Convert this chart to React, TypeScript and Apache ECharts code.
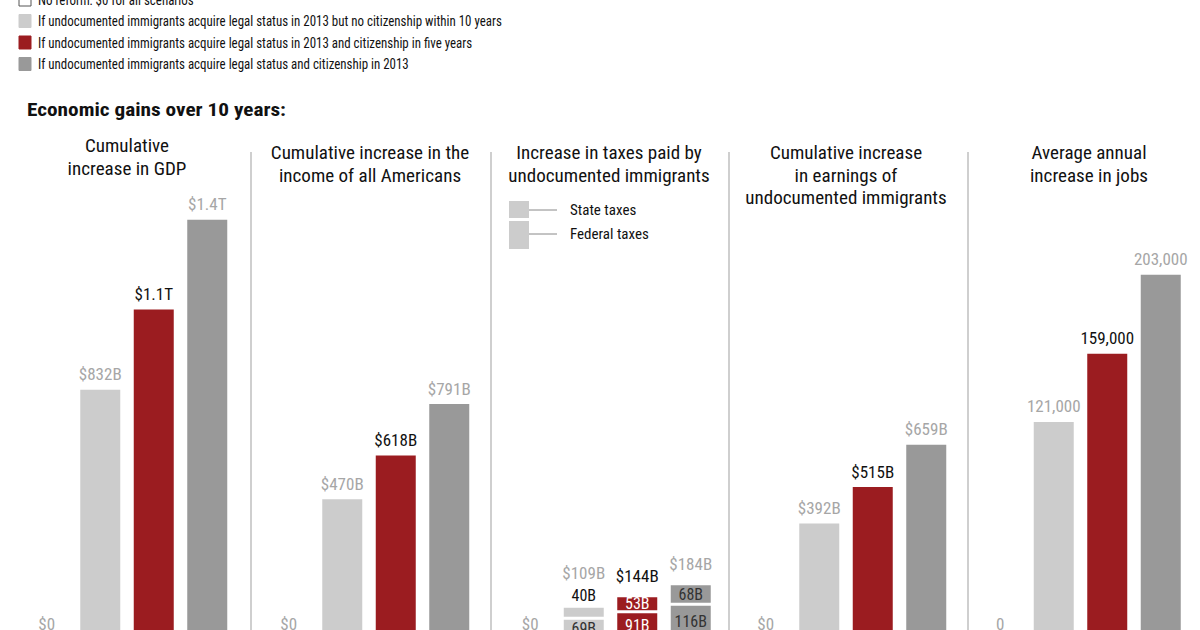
import React, { useEffect, useRef } from "react";
import * as echarts from "echarts";

const FONT = '"Liberation Sans Narrow", "Roboto Condensed", "DejaVu Sans Condensed", "Noto Sans", sans-serif';

// Scenarios (legend order)
const scenarios = [
  "No reform: $0 for all scenarios",
  "If undocumented immigrants acquire legal status in 2013 but no citizenship within 10 years",
  "If undocumented immigrants acquire legal status in 2013 and citizenship in five years",
  "If undocumented immigrants acquire legal status and citizenship in 2013",
];
const categories = ["No reform", "Legal status only", "Citizenship in 5 years", "Citizenship in 2013"];

// Values (billions of dollars, jobs per year)
const gdpValues = [0, 832, 1100, 1400];
const incomeValues = [0, 470, 618, 791];
const stateTaxes = [0, 40, 53, 68];
const federalTaxes = [0, 69, 91, 116];
const taxTotals = [0, 109, 144, 184];
const earningsValues = [0, 392, 515, 659];
const jobsValues = [0, 121000, 159000, 203000];

const panelTitles = [
  "Cumulative\nincrease in GDP",
  "Cumulative increase in the\nincome of all Americans",
  "Increase in taxes paid by\nundocumented immigrants",
  "Cumulative increase\nin earnings of\nundocumented immigrants",
  "Average annual\nincrease in jobs",
];

const barColors = ["#ffffff", "#cccccc", "#9b1c20", "#999999"];
const labelColors = ["#a6a6a6", "#a6a6a6", "#111111", "#a6a6a6"];
const stateLabelColors = ["#222", "#111", "#ffffff", "#333"];
const federalLabelColors = ["#222", "#333", "#ffffff", "#333"];

const fmtDollar = (v: number) =>
  v === 0 ? "$0" : v >= 1000 ? `$${(v / 1000).toFixed(1)}T` : `$${v}B`;
const fmtJobs = (v: number) => v.toLocaleString("en-US");

const gridLefts = [20, 262, 503.5, 739, 973.5];
const gridCenters = [127, 370, 609, 846, 1089];
const titleTops = [135, 142, 142, 142, 142];
const axisMax = [1633, 1646, 1630, 1658, 272600];
const dividers = [251, 491, 729, 968];

export default function App() {
  const ref = useRef<HTMLDivElement>(null);

  useEffect(() => {
    if (!ref.current) return;
    const chart = echarts.init(ref.current, null, { renderer: "svg" });

    const grids = gridLefts.map((l) => ({ left: l, width: 214, top: 150, height: 489 }));
    const xAxes = gridLefts.map((_, i) => ({
      type: "category",
      gridIndex: i,
      data: categories,
      show: false,
    }));
    const yAxes = gridLefts.map((_, i) => ({
      type: "value",
      gridIndex: i,
      min: 0,
      max: axisMax[i],
      show: false,
      splitLine: { show: false },
    }));

    const simpleSeries = (idx: number, values: number[], fmt: (v: number) => string) => ({
      type: "bar",
      xAxisIndex: idx,
      yAxisIndex: idx,
      barWidth: 40,
      data: values.map((v, i) => ({
        value: v,
        itemStyle: { color: barColors[i] },
        label: {
          show: true,
          position: "top",
          distance: 7,
          color: labelColors[i],
          fontSize: 17,
          fontFamily: FONT,
          formatter: fmt(v),
        },
      })),
    });

    const taxSeries = [
      {
        type: "bar",
        name: "Federal taxes",
        stack: "tax",
        xAxisIndex: 2,
        yAxisIndex: 2,
        barWidth: 43,
        data: federalTaxes.map((v, i) => ({
          value: v,
          itemStyle: { color: barColors[i], borderColor: "#ffffff", borderWidth: 1.5 },
          label: {
            show: v > 0,
            position: "inside",
            color: federalLabelColors[i],
            fontSize: 16,
            fontFamily: FONT,
            formatter: `${v}B`,
          },
        })),
      },
      {
        type: "bar",
        name: "State taxes",
        stack: "tax",
        xAxisIndex: 2,
        yAxisIndex: 2,
        barWidth: 43,
        data: stateTaxes.map((v, i) => ({
          value: v,
          itemStyle: { color: barColors[i], borderColor: "#ffffff", borderWidth: 1.5 },
          label: {
            show: v > 0,
            position: i === 1 ? "top" : "inside",
            distance: 3,
            color: stateLabelColors[i],
            fontSize: 16,
            fontFamily: FONT,
            formatter: `${v}B`,
          },
        })),
      },
      {
        type: "bar",
        name: "Total",
        stack: "tax",
        xAxisIndex: 2,
        yAxisIndex: 2,
        barWidth: 43,
        data: taxTotals.map((t, i) => ({
          value: 0,
          itemStyle: { color: "rgba(0,0,0,0)" },
          label: {
            show: true,
            position: "top",
            distance: i === 1 ? 25 : i === 0 ? 7 : 11,
            color: labelColors[i],
            fontSize: 17,
            fontFamily: FONT,
            formatter: fmtDollar(t),
          },
        })),
      },
    ];

    const graphics: any[] = [];
    // Top legend
    scenarios.forEach((s, i) => {
      const cy = -0.5 + i * 21.5;
      graphics.push({
        type: "rect",
        shape: { x: 19, y: cy - 6.5, width: 12, height: 13 },
        style: { fill: barColors[i], stroke: i === 0 ? "#555" : barColors[i], lineWidth: 1 },
      });
      graphics.push({
        type: "text",
        x: 38,
        y: cy,
        scaleX: 0.925,
        style: {
          text: s,
          fill: "#111",
          font: `14px ${FONT}`,
          textVerticalAlign: "middle",
        },
      });
    });
    graphics.push({
      type: "text",
      x: 27,
      y: 109,
      scaleX: 1.12,
      style: {
        text: "Economic gains over 10 years:",
        fill: "#111",
        font: `bold 19px ${FONT}`,
        textVerticalAlign: "middle",
      },
    });
    // Panel titles
    panelTitles.forEach((t, i) => {
      graphics.push({
        type: "text",
        x: gridCenters[i],
        y: titleTops[i],
        scaleX: 1.06,
        style: {
          text: t,
          fill: "#111",
          font: `18px ${FONT}`,
          lineHeight: 22.5,
          textAlign: "center",
          textVerticalAlign: "top",
        },
      });
    });
    // Dividers
    dividers.forEach((x) => {
      graphics.push({
        type: "line",
        shape: { x1: x, y1: 152, x2: x, y2: 660 },
        style: { stroke: "#cfcfcf", lineWidth: 2 },
      });
    });
    // Tax legend
    graphics.push({ type: "rect", shape: { x: 509, y: 201, width: 20, height: 17 }, style: { fill: "#cccccc" } });
    graphics.push({ type: "rect", shape: { x: 509, y: 221, width: 20, height: 28 }, style: { fill: "#cccccc" } });
    graphics.push({ type: "line", shape: { x1: 529, y1: 210, x2: 557, y2: 210 }, style: { stroke: "#888", lineWidth: 1 } });
    graphics.push({ type: "line", shape: { x1: 529, y1: 234, x2: 557, y2: 234 }, style: { stroke: "#888", lineWidth: 1 } });
    graphics.push({
      type: "text",
      x: 570,
      y: 210,
      style: { text: "State taxes", fill: "#111", font: `15px ${FONT}`, textVerticalAlign: "middle" },
    });
    graphics.push({
      type: "text",
      x: 570,
      y: 234,
      style: { text: "Federal taxes", fill: "#111", font: `15px ${FONT}`, textVerticalAlign: "middle" },
    });

    chart.setOption({
      animation: false,
      backgroundColor: "#ffffff",
      textStyle: { fontFamily: FONT },
      grid: grids,
      xAxis: xAxes,
      yAxis: yAxes,
      series: [
        simpleSeries(0, gdpValues, fmtDollar),
        simpleSeries(1, incomeValues, fmtDollar),
        ...taxSeries,
        simpleSeries(3, earningsValues, fmtDollar),
        simpleSeries(4, jobsValues, fmtJobs),
      ],
      graphic: graphics,
    } as any);

    return () => chart.dispose();
  }, []);

  return (
    <div
      ref={ref}
      style={{ position: "fixed", top: 0, left: 0, width: 1200, height: 660, background: "#fff" }}
    />
  );
}
